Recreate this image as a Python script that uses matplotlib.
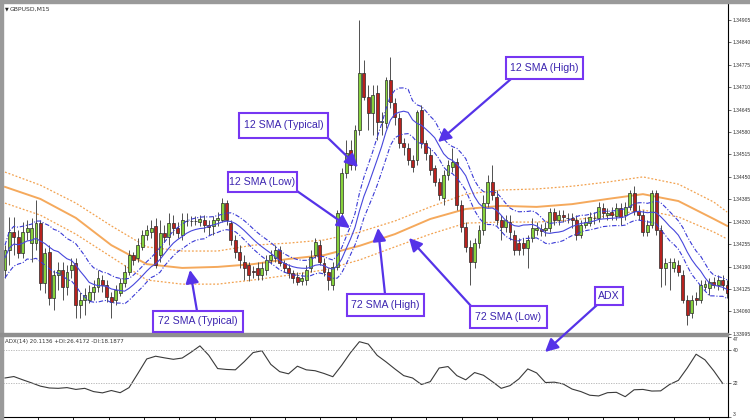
import numpy as np
import pandas as pd
import matplotlib
matplotlib.use("Agg")
import matplotlib.pyplot as plt
from matplotlib.patches import Rectangle, FancyArrowPatch

BASE = 1.3400  # all price lists below are pips above this

# GBPUSD M15 candles
open_pips = [
    18.0, 23.8, 29.0, 27.6, 22.9, 29.0, 25.8, 25.8, 31.6, 14.2,
    23.2, 9.9, 16.5, 18.0, 13.1, 18.0, 20.0, 7.8, 9.3, 9.3,
    11.6, 13.1, 15.1, 13.6, 10.2, 9.3, 11.3, 14.2, 17.4, 22.3,
    21.5, 24.7, 28.1, 29.0, 30.8, 22.3, 28.7, 27.6, 31.6, 30.2,
    28.1, 32.2, 32.2, 32.2, 31.9, 32.5, 31.0, 30.8, 32.5, 32.5,
    37.4, 31.6, 26.7, 23.2, 20.3, 19.4, 17.7, 18.6, 16.5, 18.0,
    20.9, 21.5, 23.8, 20.0, 18.6, 17.1, 16.0, 14.8, 15.1, 18.6,
    22.3, 25.2, 20.0, 17.4, 13.6, 18.9, 34.5, 46.1, 52.8, 48.5,
    58.6, 75.1, 68.2, 63.5, 69.3, 60.9, 60.6, 73.1, 66.4, 62.1,
    54.8, 53.4, 49.9, 49.9, 64.4, 54.8, 51.3, 47.6, 43.5, 38.9,
    45.5, 47.9, 49.3, 36.8, 30.5, 24.7, 20.3, 25.8, 29.6, 37.4,
    43.5, 39.2, 32.5, 30.5, 31.9, 28.1, 25.8, 25.8, 24.4, 27.3,
    29.6, 29.9, 29.6, 30.2, 34.8, 32.5, 33.9, 33.1, 33.1, 32.5,
    28.1, 31.0, 31.6, 33.1, 33.1, 36.0, 33.9, 34.8, 33.7, 36.0,
    33.9, 36.3, 40.3, 35.1, 33.9, 29.0, 31.0, 40.3, 29.6, 18.6,
    20.3, 18.6, 19.4, 16.5, 9.3, 5.5, 9.9, 9.3, 13.1, 12.8,
    14.5, 13.6, 15.1, 13.6,
]
high_pips = [
    25.2, 33.4, 33.4, 29.6, 31.9, 32.5, 33.1, 38.3, 32.5, 24.4,
    25.2, 18.0, 20.3, 20.3, 19.4, 21.5, 21.5, 11.6, 12.8, 13.6,
    15.1, 18.0, 16.5, 15.1, 11.6, 13.6, 15.7, 19.4, 23.8, 23.2,
    27.3, 29.6, 31.0, 32.5, 33.1, 32.5, 31.0, 34.5, 33.9, 31.9,
    34.5, 34.5, 33.7, 33.7, 33.9, 33.9, 32.5, 33.7, 34.8, 38.9,
    38.3, 32.5, 28.1, 25.2, 22.3, 20.3, 19.2, 20.3, 20.3, 22.3,
    23.8, 25.2, 25.0, 20.9, 19.7, 18.0, 17.4, 17.4, 19.4, 23.8,
    27.3, 26.7, 21.5, 18.6, 20.3, 35.4, 47.6, 55.7, 55.7, 60.0,
    90.5, 78.9, 71.7, 71.7, 71.7, 63.8, 74.0, 79.8, 67.9, 63.5,
    56.3, 54.8, 51.3, 64.4, 65.9, 55.7, 53.4, 48.5, 44.7, 47.0,
    49.9, 53.4, 50.5, 38.3, 31.9, 26.7, 27.3, 31.0, 39.7, 45.5,
    48.5, 41.2, 33.9, 33.9, 33.9, 29.6, 27.3, 27.3, 28.1, 33.1,
    31.9, 31.3, 31.9, 36.0, 36.0, 35.4, 35.4, 34.5, 34.5, 33.9,
    32.5, 33.4, 34.8, 34.8, 37.7, 37.4, 36.0, 36.3, 37.4, 37.4,
    37.7, 41.2, 42.3, 36.8, 35.4, 32.5, 41.2, 41.2, 31.0, 21.5,
    21.5, 21.5, 20.9, 18.0, 10.7, 10.7, 11.6, 15.1, 15.1, 15.7,
    16.0, 16.5, 16.5, 15.1,
]
low_pips = [
    15.7, 19.4, 22.3, 21.5, 21.5, 26.7, 20.3, 23.8, 12.2, 11.3,
    7.8, 6.4, 12.2, 9.3, 10.7, 15.7, 4.1, 4.1, 4.9, 8.4,
    9.3, 11.6, 11.6, 8.7, 4.1, 7.8, 10.5, 13.1, 16.5, 19.4,
    20.3, 23.8, 26.7, 27.3, 18.6, 20.3, 26.1, 25.2, 28.1, 27.3,
    26.7, 30.8, 30.8, 31.0, 30.8, 29.0, 28.1, 28.1, 30.8, 31.9,
    31.0, 25.2, 21.5, 18.6, 15.1, 14.8, 15.7, 15.1, 15.1, 16.5,
    19.7, 20.3, 19.2, 17.4, 15.7, 14.2, 13.6, 13.6, 13.6, 17.4,
    21.5, 19.4, 16.3, 12.2, 12.2, 18.0, 33.7, 44.7, 47.0, 47.0,
    57.2, 67.3, 58.6, 57.2, 55.7, 57.2, 59.2, 65.0, 60.0, 53.4,
    51.3, 48.5, 46.4, 48.5, 53.4, 49.9, 45.5, 42.3, 38.3, 36.8,
    44.1, 46.4, 35.4, 29.0, 23.2, 13.6, 18.6, 24.4, 28.1, 36.3,
    38.3, 31.0, 26.7, 29.0, 26.7, 22.3, 22.3, 22.3, 18.6, 26.1,
    28.1, 27.9, 27.9, 29.0, 31.0, 31.0, 31.9, 31.6, 30.2, 26.7,
    27.3, 30.2, 30.8, 31.3, 31.9, 33.1, 32.5, 32.5, 32.5, 31.0,
    32.5, 35.4, 33.9, 32.5, 27.9, 27.9, 30.2, 28.1, 13.1, 13.6,
    12.2, 17.4, 16.3, 8.4, 2.0, 4.1, 7.8, 8.4, 12.2, 10.7,
    12.8, 12.2, 12.2, 9.9,
]
close_pips = [
    23.8, 29.0, 27.6, 22.9, 29.0, 30.2, 30.2, 31.6, 14.2, 22.9,
    9.9, 16.5, 18.0, 13.1, 17.4, 19.4, 7.8, 9.3, 10.7, 11.6,
    13.1, 15.7, 13.6, 10.2, 8.7, 12.2, 14.2, 17.4, 22.3, 20.9,
    25.2, 28.1, 29.6, 30.2, 19.4, 28.7, 27.6, 31.6, 30.2, 28.7,
    32.5, 32.3, 32.1, 32.3, 32.8, 31.0, 30.5, 32.5, 33.1, 37.4,
    32.5, 26.7, 23.2, 20.9, 18.6, 16.5, 17.4, 16.5, 18.6, 20.9,
    22.3, 23.8, 20.0, 18.6, 17.1, 15.7, 14.5, 15.7, 18.0, 21.8,
    26.1, 20.3, 17.4, 15.1, 18.9, 34.5, 46.1, 51.9, 48.5, 58.6,
    75.1, 68.2, 63.5, 68.8, 60.9, 61.2, 73.1, 66.7, 62.4, 54.8,
    53.7, 49.9, 47.9, 63.8, 54.8, 51.9, 47.0, 43.5, 39.7, 45.5,
    48.5, 49.3, 36.8, 30.5, 24.7, 20.3, 25.8, 29.6, 37.4, 43.5,
    39.7, 32.5, 30.5, 32.5, 29.0, 23.8, 23.8, 24.4, 26.7, 30.2,
    30.2, 29.3, 30.2, 34.8, 32.5, 33.9, 33.4, 33.2, 32.5, 28.1,
    31.0, 31.9, 33.4, 33.2, 36.3, 34.5, 34.5, 33.9, 36.0, 33.4,
    36.3, 40.3, 35.1, 33.9, 29.0, 31.0, 40.3, 29.6, 18.6, 20.0,
    20.2, 20.3, 17.4, 9.3, 4.9, 9.3, 9.3, 13.6, 13.9, 14.5,
    13.6, 15.1, 13.6, 11.3,
]

# 72 SMA lines (their history starts off-screen), read every 8th bar
sma72_bars = [0, 8, 16, 24, 32, 40, 48, 56, 64, 72, 80,
              88, 96, 104, 112, 120, 128, 136, 144, 152, 160, 163]
sma72_high_pips = [46.4, 42.6, 37.4, 30.8, 24.7, 23.5, 23.5, 25.2, 25.8, 26.7, 29.0,
                   32.2, 36.3, 40.0, 41.2, 41.5, 42.3, 43.5, 45.0, 42.9, 37.7, 34.8]
sma72_typ_pips = [42.1, 38.6, 33.1, 25.2, 19.7, 18.6, 18.9, 19.7, 21.2, 22.3, 25.0,
                  28.4, 32.8, 35.7, 36.6, 36.3, 37.1, 38.6, 40.0, 38.0, 32.8, 30.8]
sma72_low_pips = [37.4, 33.9, 28.4, 21.8, 15.1, 13.9, 13.9, 15.1, 16.5, 18.0, 20.9,
                  24.7, 28.4, 31.6, 31.9, 31.9, 32.5, 33.7, 35.4, 33.4, 29.0, 27.0]

# ADX(14), every second bar
adx_values = [
    24.5, 25.3, 23.5, 21.8, 20.0, 19.0, 18.8, 19.2, 18.2, 18.8,
    17.0, 16.3, 17.6, 16.4, 19.2, 27.0, 35.0, 36.5, 35.6, 34.8,
    35.5, 38.7, 42.2, 37.0, 29.7, 29.2, 29.0, 33.5, 38.5, 39.5,
    32.0, 28.0, 26.8, 31.0, 29.0, 28.5, 27.0, 25.2, 31.5, 38.5,
    44.5, 43.2, 37.0, 33.4, 29.5, 25.8, 24.5, 20.9, 22.5, 30.0,
    30.8, 25.8, 23.5, 27.5, 26.0, 22.5, 18.8, 20.3, 24.0, 29.5,
    27.3, 22.0, 22.2, 21.2, 18.4, 17.0, 15.0, 14.6, 16.4, 16.6,
    14.2, 18.0, 18.2, 17.3, 17.4, 20.9, 23.2, 30.0, 37.6, 34.5,
    28.4, 21.5,
]

price_ticks = [1.33995, 1.34060, 1.34125, 1.34190, 1.34255, 1.34320, 1.34385, 1.34450,
               1.34515, 1.34580, 1.34645, 1.34710, 1.34775, 1.34840, 1.34905]
adx_ticks = [3, 22, 40, 47]
adx_levels = [22, 40]

callouts = ["12 SMA (Typical)", "12 SMA (High)", "12 SMA (Low)",
            "72 SMA (Typical)", "72 SMA (High)", "72 SMA (Low)", "ADX"]

W, H = 750, 420


def frac_rect(x0, y0, x1, y1):
    # pixel box measured from the top-left corner -> figure fraction rect
    return [x0 / W, 1 - y1 / H, (x1 - x0) / W, (y1 - y0) / H]


def fp(x, y):
    return (x / W, 1 - y / H)


fig = plt.figure(figsize=(W / 100, H / 100), dpi=100)
fig.patch.set_facecolor("white")

ax = fig.add_axes(frac_rect(3, 4, 728, 334))
ax2 = fig.add_axes(frac_rect(3, 337, 728, 417))

o = BASE + np.array(open_pips) / 1e4
h = BASE + np.array(high_pips) / 1e4
l = BASE + np.array(low_pips) / 1e4
c = BASE + np.array(close_pips) / 1e4
n = len(o)
idx = np.arange(n)

# 72 SMA band (orange)
sb = np.array(sma72_bars)
ax.plot(sb, BASE + np.array(sma72_typ_pips) / 1e4, color="#f5a95c", lw=1.4, zorder=1)
ax.plot(sb, BASE + np.array(sma72_high_pips) / 1e4, color="#f2a250", lw=0.9,
        ls=(0, (1.5, 1.5)), zorder=1)
ax.plot(sb, BASE + np.array(sma72_low_pips) / 1e4, color="#f2a250", lw=0.9,
        ls=(0, (1.5, 1.5)), zorder=1)

# candles
up = c >= o
ax.vlines(idx, l, h, color="#505050", lw=0.7, zorder=2)
body_lo = np.minimum(o, c)
body_h = np.maximum(np.abs(c - o), 0.000012)
ax.bar(idx[up], body_h[up], bottom=body_lo[up], width=0.66, color="#86d23c",
       edgecolor="#2a2a2a", lw=0.5, zorder=3)
ax.bar(idx[~up], body_h[~up], bottom=body_lo[~up], width=0.66, color="#b8221e",
       edgecolor="#2a2a2a", lw=0.5, zorder=3)

# 12 SMA on high / typical / low (blue)
df = pd.DataFrame({"h": h, "l": l, "c": c})
typical = (df.h + df.l + df.c) / 3
sma12_h = df.h.rolling(12, min_periods=1).mean()
sma12_t = typical.rolling(12, min_periods=1).mean()
sma12_l = df.l.rolling(12, min_periods=1).mean()
dashdot = (0, (4, 1.6, 1, 1.6))
ax.plot(idx, sma12_t, color="#4747dc", lw=0.8, zorder=4)
ax.plot(idx, sma12_h, color="#3a3ad6", lw=0.8, ls=dashdot, zorder=4)
ax.plot(idx, sma12_l, color="#3a3ad6", lw=0.8, ls=dashdot, zorder=4)

small = dict(family="Liberation Sans", size=3.6)

xlim = (-0.45, 163.2)
ax.set_xlim(*xlim)
ax.set_ylim(BASE - 0.56e-4, BASE + 95.14e-4)
ax.set_xticks([])
ax.yaxis.tick_right()
ax.set_yticks(price_ticks)
ax.set_yticklabels([f"{p:.5f}" for p in price_ticks], fontdict=small)
ax.tick_params(axis="y", length=2, width=0.5, pad=1.2, colors="#333333")
for s in ["top", "left", "bottom"]:
    ax.spines[s].set_visible(False)
ax.spines["right"].set_color("black")
ax.spines["right"].set_linewidth(0.8)

# ADX panel
adx_bars = np.arange(0, n, 2)
ax2.plot(adx_bars, adx_values, color="#3a3a3a", lw=0.8)
for lev in adx_levels:
    ax2.axhline(lev, color="#b0b0b0", lw=0.6, ls=(0, (1.5, 1.5)))
ax2.set_xlim(*xlim)
ax2.set_ylim(3.45, 47.09)
ax2.yaxis.tick_right()
ax2.set_yticks(adx_ticks)
tl = ax2.set_yticklabels([str(t) for t in adx_ticks], fontdict=small)
tl[0].set_va("bottom")
tl[-1].set_va("top")
ax2.tick_params(axis="y", length=2, width=0.5, pad=1.2, colors="#333333")
ax2.set_xticks(np.arange(7.45, 163, 7.97))
ax2.set_xticklabels([])
ax2.tick_params(axis="x", length=3, width=0.6, direction="out")
for s in ["top", "left"]:
    ax2.spines[s].set_visible(False)
for s in ["right", "bottom"]:
    ax2.spines[s].set_color("black")
    ax2.spines[s].set_linewidth(0.8)

# window frame and panel separator
fig.patches.append(Rectangle((0, 1 - 3 / H), 1, 3 / H, transform=fig.transFigure,
                             color="#9a9a9a", zorder=0))
fig.patches.append(Rectangle((0, 0), 3 / W, 1, transform=fig.transFigure,
                             color="#9a9a9a", zorder=0))
fig.patches.append(Rectangle(fp(0, 336), 728 / W, 3 / H, transform=fig.transFigure,
                             color="#8f8f8f", zorder=0))

fig.text(*fp(4.5, 9), "\u25bc", fontsize=3.5, va="center", color="#222222")
fig.text(*fp(10, 9), "GBPUSD,M15", fontsize=4.4, va="center", color="#333333")
fig.text(*fp(5, 341), "ADX(14) 20.1136 +DI:26.4172 -DI:18.1877", fontsize=4.0,
         va="center", color="#333333")

# callout boxes: (left, top, right, bottom) in pixels, arrow start -> tip
box_px = [(239, 113, 328, 138), (506, 57, 583, 79), (228, 172, 297, 192),
          (153, 311, 243, 332), (347, 294, 424, 316), (470, 306, 547, 328),
          (595, 287, 623, 305)]
arrow_px = [((328, 138), (358, 167)), ((511, 79), (438, 142)), ((297, 191), (350, 228)),
            ((197, 311), (190, 270)), ((385, 294), (378, 228)), ((471, 306), (409, 238)),
            ((597, 305), (545, 352))]
box_edge = "#7636f2"
txt_col = "#3c25b0"
arrow_col = "#5533e8"
for label, (x0, y0, x1, y1), (a0, a1) in zip(callouts, box_px, arrow_px):
    fig.add_artist(FancyArrowPatch(fp(*a0), fp(*a1), transform=fig.transFigure,
                                   arrowstyle="-|>,head_length=0.55,head_width=0.28",
                                   color=arrow_col, lw=1.6, mutation_scale=14,
                                   shrinkA=0, shrinkB=0, zorder=8))
    fig.patches.append(Rectangle(fp(x0, y1), (x1 - x0) / W, (y1 - y0) / H,
                                 transform=fig.transFigure, facecolor="white",
                                 edgecolor=box_edge, lw=1.5, zorder=9))
    fig.text((x0 + x1) / 2 / W, 1 - (y0 + y1) / 2 / H, label, fontsize=7.6,
             family="Liberation Sans", color=txt_col, ha="center", va="center",
             zorder=10)

fig.savefig("out.png", dpi=100)
